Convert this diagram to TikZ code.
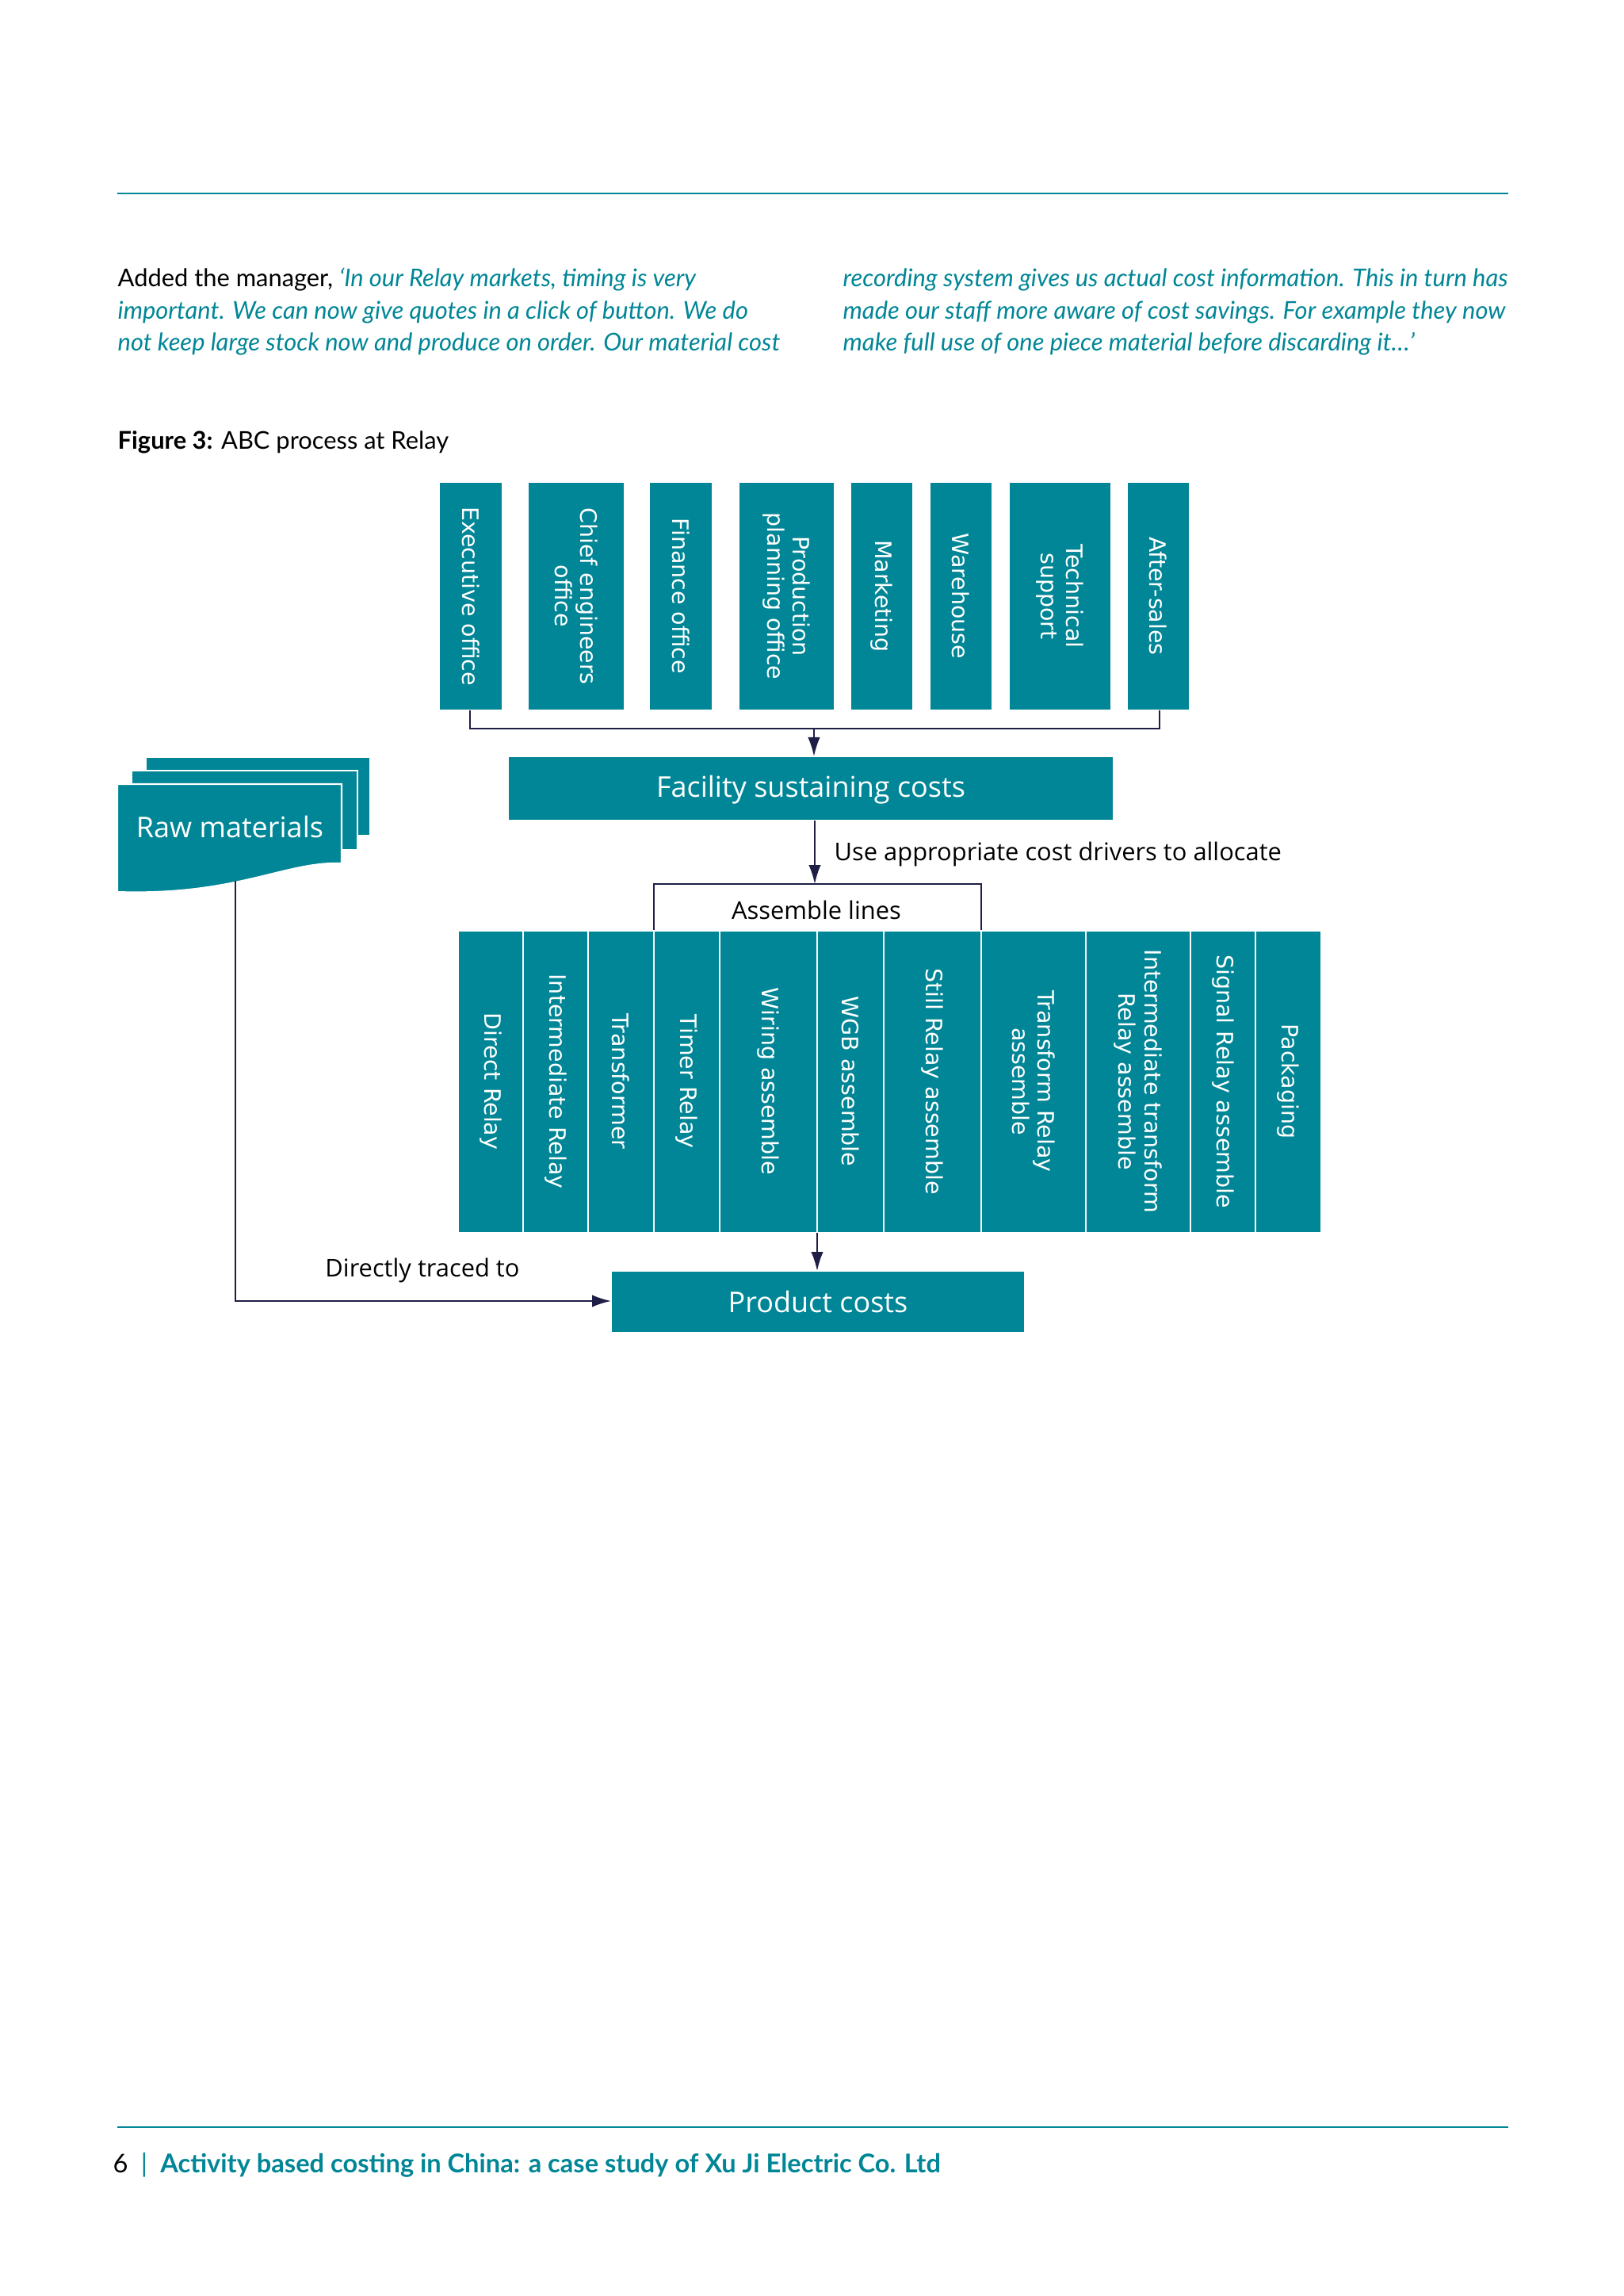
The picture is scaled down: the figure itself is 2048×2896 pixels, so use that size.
\documentclass[tikz,border=0pt]{standalone}
\usepackage{fontspec}
\setmainfont{Lato}
\newfontfamily\boxfont{DejaVu Sans}
\newfontfamily\lblfont{Open Sans}
\usetikzlibrary{arrows.meta}
\definecolor{teal1}{RGB}{0,134,150}
\definecolor{navy}{RGB}{30,30,70}
\begin{document}
\begin{tikzpicture}[x=0.2905bp,y=-0.2905bp,
  box/.style={fill=teal1,draw=white,line width=0.6pt},
  vlab/.style={text=white,rotate=-90,align=center,font=\boxfont\fontsize{8.3}{9.5}\selectfont,inner sep=0pt},
  hlab/.style={text=white,font=\lblfont\fontsize{10.5}{12}\selectfont},
  conn/.style={draw=navy,line width=0.6pt},
  arr/.style={conn,-{Latex[length=7pt,width=4.5pt]}},
  para/.style={anchor=base west,inner sep=0pt,font=\fontsize{9}{11}\selectfont},
  it/.style={para,text=teal1,font=\itshape\fontsize{9}{11}\selectfont}]
\useasboundingbox (0,0) rectangle (2048,2896);
\fill[white] (0,0) rectangle (2048,2896);
% rules
\draw[teal1,line width=0.6pt] (148,244) -- (1903,244);
\draw[teal1,line width=0.6pt] (148,2683) -- (1903,2683);
% paragraph
\node[para] (p1) at (148,362) {Added the manager, \textcolor{teal1}{\itshape ‘In our Relay markets, timing is very}};
\node[it] (p2) at (148,403) {important. We can now give quotes in a click of button. We do};
\node[it] (p3) at (148,443) {not keep large stock now and produce on order. Our material cost};
\node[it] (q1) at (1063,362) {recording system gives us actual cost information. This in turn has};
\node[it] (q2) at (1063,403) {made our staff more aware of cost savings. For example they now};
\node[it] (q3) at (1063,443) {make full use of one piece material before discarding it…’};
\node[para] (fig) at (148,566) {\textbf{Figure 3:} ABC process at Relay};
% top boxes
\foreach \n/\a/\b/\t in {exe/554/634/{Executive office},chf/666/788/{Chief engineers\\office},fin/819/899/{Finance office},prd/932/1053/{Production\\planning office},mkt/1073/1152/{Marketing},wh/1173/1252/{Warehouse},tec/1273/1402/{Technical\\support},aft/1422/1501/{After-sales}}{
  \path[box] (\a,608) rectangle (\b,896);
  \node[vlab] (\n) at ({(\a+\b)/2},752) {\t};
}
\coordinate (bl) at (593,919);
\coordinate (br) at (1463,919);
\coordinate (bc) at (1027,919);
\draw[conn] (593,896) -- (bl) -- (br) -- (1463,896);
% facility
\path[box] (641,954) rectangle (1405,1035);
\node[hlab] (fac) at (1023,996) {Facility sustaining costs};
\draw[arr] (bc) -- (1027,954);
% allocate
\coordinate (al) at (1028,1115);
\draw[arr] (1028,1035) -- (al);
\node[anchor=west,font=\lblfont\fontsize{9}{11}\selectfont,inner sep=0pt] (use) at (1052,1077) {Use appropriate cost drivers to allocate};
\draw[conn] (825,1174) -- (825,1115) -- (1238,1115) -- (1238,1174);
\node[font=\lblfont\fontsize{9}{11}\selectfont,inner sep=0pt] (asl) at (1030,1148) {Assemble lines};
% bottom boxes
\foreach \n/\a/\b/\t in {dr/578/660/{Direct Relay},ir/660/742/{Intermediate Relay},tr/742/825/{Transformer},tm/825/908/{Timer Relay},wa/908/1031/{Wiring assemble},wg/1031/1115/{WGB assemble},sr/1115/1238/{Still Relay assemble},tra/1238/1370/{Transform Relay\\assemble},itr/1370/1502/{Intermediate transform\\Relay assemble},sg/1502/1584/{Signal Relay assemble},pk/1584/1667/{Packaging}}{
  \path[box] (\a,1174) rectangle (\b,1555);
  \node[vlab] (\n) at ({(\a+\b)/2},1364) {\t};
}
% product
\path[box] (771,1603) rectangle (1293,1681);
\node[hlab] (prod) at (1032,1642) {Product costs};
\draw[arr] (1031,1555) -- (1031,1603);
% raw materials
\path[box] (184,955) rectangle (467,1054);
\path[box] (166,972) rectangle (451,1072);
\path[box] (148,989) -- (431,989) -- (431,1089) .. controls (360,1086) and (300,1130) .. (148,1125) -- cycle;
\node[hlab] (raw) at (290,1043) {Raw materials};
\draw[arr] (297,1111) -- (297,1641) -- (771,1641);
\node[font=\lblfont\fontsize{9}{11}\selectfont,inner sep=0pt] (dt) at (533,1602) {Directly traced to};
% footer
\node[anchor=base west,inner sep=0pt,font=\bfseries\fontsize{9.5}{11}\selectfont] (foot) at (142,2740) {\textcolor{teal1}{\mdseries\textcolor{black}{6}\enspace|\enspace}\textcolor{teal1}{Activity based costing in China: a case study of Xu Ji Electric Co. Ltd}};
\end{tikzpicture}
\end{document}
